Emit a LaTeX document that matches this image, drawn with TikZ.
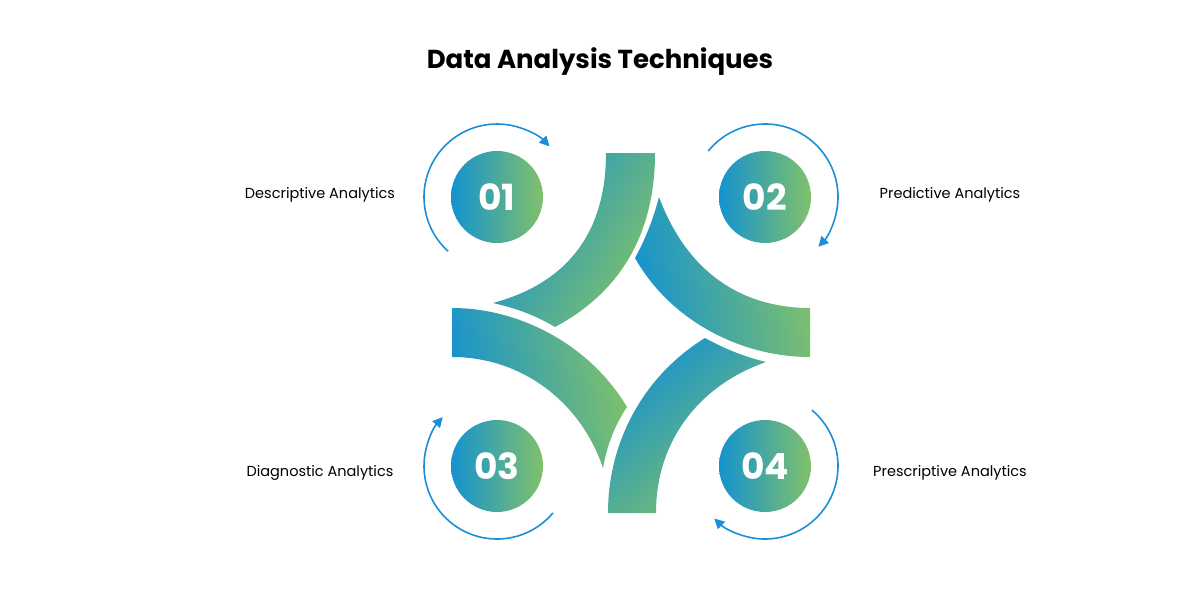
\documentclass[tikz,border=0pt]{standalone}
\usepackage{fontspec}
\setmainfont{Poppins}
\usetikzlibrary{arrows.meta}
\definecolor{cb}{HTML}{1592CF}
\definecolor{cg}{HTML}{80C16A}
\definecolor{ca}{HTML}{1A8FD8}
\tikzset{
  num/.style={circle,minimum size=92pt,inner sep=0pt,left color=cb,right color=cg,text=white,font=\fontsize{36}{36}\selectfont\bfseries},
  lab/.style={font=\fontsize{14.5}{16}\selectfont,text=black},
  rot/.style={draw=ca,line width=1.6pt,-{Triangle[length=10pt,width=10pt]}},
  band/.style={left color=cb,right color=cg}
}
\begin{document}
\begin{tikzpicture}[x=1pt,y=-1pt]
\useasboundingbox (0,0) rectangle (1200,600);
\node[font=\fontsize{26}{30}\selectfont\bfseries] (title) at (600,62) {Data Analysis Techniques};
% bands
\shade[band,shading angle=60] (606,153) -- (655,153) .. controls (655,240) and (615,295) .. (555,327) .. controls (535,315) and (515,308) .. (493,303) .. controls (560,285) and (606,240) .. cycle;
\shade[band,shading angle=100] (659,197) .. controls (690,280) and (750,308) .. (810,308) -- (810,357) .. controls (740,357) and (670,320) .. (635,258) .. controls (645,240) and (653,220) .. cycle;
\shade[band,shading angle=100] (452,308) .. controls (520,308) and (590,345) .. (627,407) .. controls (615,425) and (607,445) .. (603,468) .. controls (580,400) and (520,357) .. (452,357) -- cycle;
\shade[band,shading angle=40] (608,513) .. controls (608,440) and (645,375) .. (705,338) .. controls (725,349) and (745,357) .. (766,362) .. controls (700,385) and (656,440) .. (656,513) -- cycle;
% circles
\node[num] (n1) at (497,197) {01};
\node[num] (n2) at (765,197) {02};
\node[num] (n3) at (497,466) {03};
\node[num] (n4) at (765,466) {04};
% rotation arrows
\draw[rot] ([shift={(-228:73)}]n1.center) arc[start angle=-228,end angle=-44,radius=73];
\draw[rot] ([shift={(-141:73)}]n2.center) arc[start angle=-141,end angle=43,radius=73];
\draw[rot] ([shift={(40:73)}]n3.center) arc[start angle=40,end angle=222,radius=73];
\draw[rot] ([shift={(-50:73)}]n4.center) arc[start angle=-50,end angle=134,radius=73];
% labels
\node[lab] (l1) at (320,195) {Descriptive Analytics};
\node[lab] (l2) at (950,195) {Predictive Analytics};
\node[lab] (l3) at (320,473) {Diagnostic Analytics};
\node[lab] (l4) at (950,473) {Prescriptive Analytics};
\end{tikzpicture}
\end{document}
